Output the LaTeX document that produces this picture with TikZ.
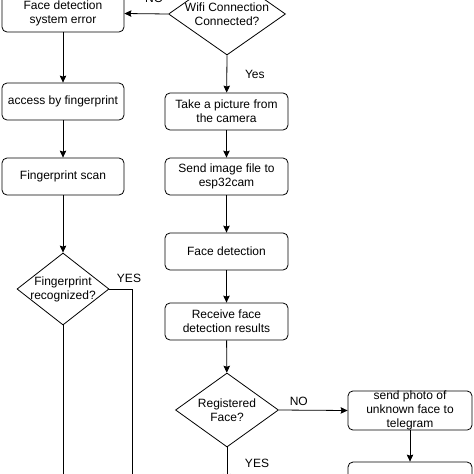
\documentclass[tikz,border=0pt]{standalone}
\usepackage{fontspec}
\setmainfont{Liberation Sans}
\usetikzlibrary{shapes.geometric, arrows.meta}
\tikzset{
  >={Stealth[length=7pt, width=6.5pt, inset=1pt]},
  x=1pt, y=-1pt,
  every node/.style={font=\fontsize{12}{14}\selectfont},
  block/.style={draw, thick, rounded corners=5pt, minimum width=122pt,
    minimum height=37pt, inner sep=0pt, align=center},
  decision/.style={draw, thick, diamond, inner sep=0pt},
  lbl/.style={align=center, inner sep=0pt},
  flow/.style={->, thick},
}

\begin{document}
\begin{tikzpicture}
      \useasboundingbox (0,0) rectangle (474,474);
      \clip (0,0) rectangle (474,474);

      % left column
      \node[block] (err) at (63,13.5) {Face detection\\system error};
      \node[block] (acc) at (63,101.5) {access by fingerprint};
      \node[block] (scan) at (63,176.5) {Fingerprint scan};
      \node[decision, minimum width=92pt, minimum height=72pt,
            label={[lbl]center:Fingerprint\\recognized?}] (fprec) at (63,289) {};

      % right column
      \node[decision, minimum width=117pt, minimum height=82pt,
            label={[lbl]center:Wifi Connection\\Connected?}] (wifi) at (227,14) {};
      \node[block, minimum width=123pt] (pic) at (226.5,111.5) {Take a picture from\\the camera};
      \node[block, minimum width=123pt] (send) at (226.5,176.5) {Send image file to\\esp32cam};
      \node[block, minimum width=123pt] (fdet) at (226.5,251.5) {Face detection};
      \node[block, minimum width=123pt] (recv) at (226.5,321.5) {Receive face\\detection results};
      \node[decision, minimum width=103pt, minimum height=74pt,
            label={[lbl]center:Registered\\Face?}] (reg) at (227,410) {};
      \node[block, minimum width=124pt] (tg) at (410,410.5) {send photo of\\unknown face to\\telegram};
      \node[block, minimum width=124pt] (nxt) at (410,480.5) {};

      \coordinate (regout) at (227,481);
      \coordinate (yesout) at (132,480);
      \coordinate (noout) at (63,480);

      \draw (wifi.west) edge[flow] node[lbl, pos=0.32, yshift=15pt]{NO} (err.east)
            (err) edge[flow] (acc)
            (acc) edge[flow] (scan)
            (scan) edge[flow] (fprec)
            (wifi.south) edge[flow] node[lbl, xshift=28pt]{Yes} (pic)
            (pic) edge[flow] (send)
            (send) edge[flow] (fdet)
            (fdet) edge[flow] (recv)
            (recv) edge[flow] (reg)
            (reg.east) edge[flow] node[lbl, pos=0.29, yshift=9pt]{NO} (tg.west)
            (tg) edge[flow] (nxt)
            (reg.south) edge[flow] node[lbl, pos=0.47, xshift=30pt]{YES} (regout);

      \draw[thick] (fprec.east) -| node[lbl, pos=0.5, xshift=-3pt, yshift=11pt]{YES} (yesout);
      \draw[thick] (fprec.south) -- (noout);
    \end{tikzpicture}
\end{document}
